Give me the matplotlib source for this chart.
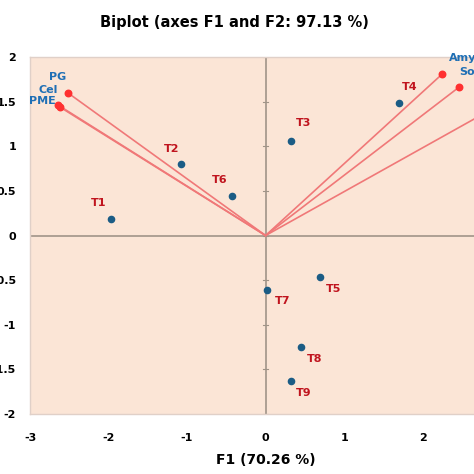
import matplotlib.pyplot as plt
import numpy as np

# observations (F1, F2)
obs_labels = ['T1', 'T2', 'T3', 'T4', 'T5', 'T6', 'T7', 'T8', 'T9']
obs_x = [-1.97, -1.08, 0.32, 1.70, 0.69, -0.43, 0.02, 0.45, 0.32]
obs_y = [0.18, 0.80, 1.06, 1.49, -0.46, 0.44, -0.61, -1.25, -1.63]

# variables (loadings scaled)
var_labels = ['PG', 'Cel', 'PME', 'Amy', 'Sol', 'TSS']
var_x = [-2.52, -2.64, -2.62, 2.25, 2.46, 2.95]
var_y = [1.60, 1.46, 1.44, 1.81, 1.66, 1.45]

fig = plt.figure(figsize=(4.74, 4.74), dpi=100)
ax = fig.add_axes([0.0633, 0.1266, 0.994, 0.7531])
ax.set_facecolor('#FBE5D6')

ax.axhline(0, color='#A09488', lw=1.2, zorder=1)
ax.axvline(0, color='#A09488', lw=1.2, zorder=1)
# small ticks on the zero line
for yt in np.arange(-2, 2.01, 0.5):
    ax.plot([-0.03, 0.03], [yt, yt], color='#A09488', lw=0.8, zorder=1)

for vx, vy in zip(var_x, var_y):
    ax.plot([0, vx], [0, vy], color='#F07878', lw=1.2, zorder=2)
ax.scatter(var_x, var_y, s=22, color='#FF3030', zorder=3)

label_off = {'PG': (-0.02, 0.18, 'right'), 'Cel': (0.0, 0.17, 'right'),
             'PME': (-0.05, 0.07, 'right'), 'Amy': (0.09, 0.18, 'left'),
             'Sol': (0.01, 0.17, 'left'), 'TSS': (0.0, 0.3, 'left')}
for lab, vx, vy in zip(var_labels, var_x, var_y):
    dx, dy, ha = label_off[lab]
    ax.text(vx + dx, vy + dy, lab, color='#1F6FB5', fontsize=8, fontweight='bold',
            ha=ha, va='center', zorder=4)

ax.scatter(obs_x, obs_y, s=20, color='#1B5C85', zorder=3)
obs_off = {'T1': (-0.15, 0.18), 'T2': (-0.12, 0.17), 'T6': (-0.15, 0.18),
           'T3': (0.17, 0.2), 'T4': (0.13, 0.17), 'T5': (0.18, -0.14),
           'T7': (0.2, -0.12), 'T8': (0.17, -0.13), 'T9': (0.17, -0.14)}
for lab, ox, oy in zip(obs_labels, obs_x, obs_y):
    dx, dy = obs_off[lab]
    ax.text(ox + dx, oy + dy, lab, color='#C0141E', fontsize=8, fontweight='bold',
            ha='center', va='center', zorder=4)

ax.set_xlim(-3, 3)
ax.set_ylim(-2, 2)
ax.set_xticks([-3, -2, -1, 0, 1, 2, 3])
ax.set_xticklabels(['-3', '-2', '-1', '0', '1', '2', '3'])
ax.set_yticks([-2, -1.5, -1, -0.5, 0, 0.5, 1, 1.5, 2])
ax.set_yticklabels(['-2', '-1.5', '-1', '-0.5', '0', '0.5', '1', '1.5', '2'])
ax.tick_params(axis='x', length=0, labelsize=8, pad=14)
ax.tick_params(axis='y', length=0, labelsize=8, pad=10)
for t in ax.get_xticklabels() + ax.get_yticklabels():
    t.set_fontweight('bold')
for s in ax.spines.values():
    s.set_color('#E0D0C8')
    s.set_linewidth(1.0)

ax.set_xlabel('F1 (70.26 %)', fontsize=10, fontweight='bold', labelpad=7)
fig.text(0.494, 0.953, 'Biplot (axes F1 and F2: 97.13 %)', fontsize=10.5,
         fontweight='bold', ha='center', va='center')

fig.savefig('out.png', dpi=100)
plt.close()
